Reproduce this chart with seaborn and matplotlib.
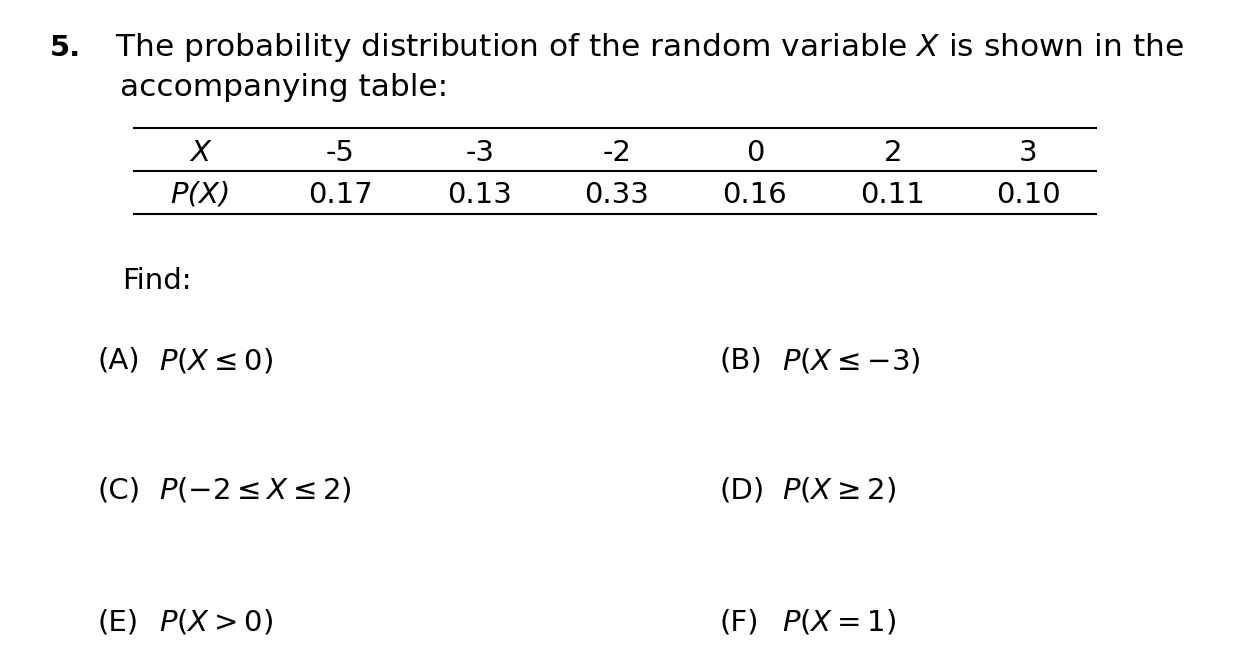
import matplotlib
matplotlib.use("Agg")
import matplotlib.pyplot as plt
import seaborn as sns

x_values = ["-5", "-3", "-2", "0", "2", "3"]
probabilities = ["0.17", "0.13", "0.33", "0.16", "0.11", "0.10"]
question_labels = ["(A)", "(B)", "(C)", "(D)", "(E)", "(F)"]
question_exprs = [r"$P\left(X\leq 0\right)$", r"$P\left(X\leq {-3}\right)$",
                  r"$P\left(-2\leq X\leq 2\right)$", r"$P\left(X\geq 2\right)$",
                  r"$P\left(X>0\right)$", r"$P\left(X=1\right)$"]

sns.set_theme(style="white")
plt.rcParams['font.family'] = ['DejaVu Sans']
plt.rcParams['mathtext.fontset'] = 'dejavusans'
plt.rcParams['text.color'] = 'black'

fig = plt.figure(figsize=(12.58, 6.5), dpi=100)
ax = fig.add_axes([0, 0, 1, 1])
ax.set_xlim(0, 1258)
ax.set_ylim(650, 0)
ax.axis("off")

fs = 21
ax.text(50, 48, "5.", fontsize=fs, fontweight="bold", va="center")
ax.text(115, 48, "The probability distribution of the random variable $X$ is shown in the",
        fontsize=22.5, va="center")
ax.text(120, 87, "accompanying table:", fontsize=22.5, va="center")

# table rules
ax.hlines([128, 171, 214], 133, 1097, color="black", lw=1.5)
col_x = [340, 480, 617, 755, 893, 1028]
ax.text(200, 153, "X", fontsize=fs, ha="center", va="center", style="italic")
ax.text(200, 195, "P(X)", fontsize=fs, ha="center", va="center", style="italic")
for cx, xv, pv in zip(col_x, x_values, probabilities):
    ax.text(cx, 153, xv, fontsize=fs, ha="center", va="center")
    ax.text(cx, 195, pv, fontsize=fs, ha="center", va="center")

ax.text(122, 281, "Find:", fontsize=fs, va="center")

pos = [(97, 361), (720, 361), (97, 490), (720, 490), (97, 622), (720, 622)]
for (px, py), lab, ex in zip(pos, question_labels, question_exprs):
    ax.text(px, py, lab, fontsize=fs, va="center")
    ax.text(px + 62, py, ex, fontsize=fs, va="center")

fig.savefig("out.png", dpi=100)
